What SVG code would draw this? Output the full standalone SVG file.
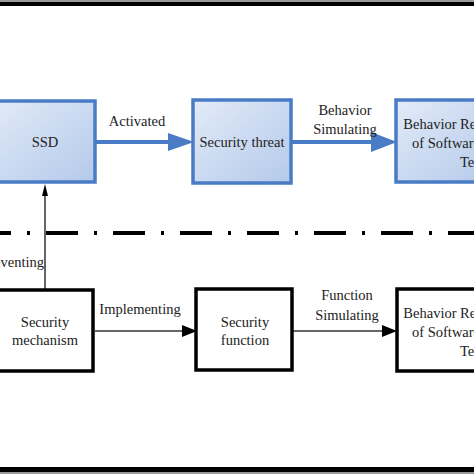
<svg xmlns="http://www.w3.org/2000/svg" width="474" height="474" viewBox="0 0 474 474">
<style>
text{font-family:"Liberation Serif","Times New Roman",serif;font-size:14.5px;fill:#222;text-anchor:middle}
.tb{fill:url(#g);stroke:#4a7cc6;stroke-width:3.5}
.bb{fill:#fff;stroke:#000;stroke-width:3.5}
.ba{stroke:#4a7cc6;stroke-width:4;fill:none}
.ka{stroke:#333;stroke-width:1.5;fill:none}
</style>
<defs>
<linearGradient id="g" x1="0" y1="0" x2="1" y2="1">
<stop offset="0" stop-color="#e2ebf8"/>
<stop offset="1" stop-color="#b4c9ea"/>
</linearGradient>
</defs>
<rect width="474" height="474" fill="#fff"/>
<rect x="0" y="0" width="474" height="2" fill="#999"/>
<rect x="0" y="2" width="474" height="4" fill="#000"/>
<rect x="0" y="467" width="474" height="5" fill="#000"/>
<rect x="0" y="472" width="474" height="2" fill="#999"/>
<line x1="-21" y1="233" x2="474" y2="233" stroke="#000" stroke-width="4" stroke-dasharray="32 16 3 16"/>
<g id="connectors">
<line class="ba" x1="95" y1="142" x2="172" y2="142"/>
<polygon points="168,133 194,142 168,151" fill="#4a7cc6"/>
<line class="ba" x1="291" y1="142" x2="374" y2="142"/>
<polygon points="371,132 397,142 371,152" fill="#4a7cc6"/>
<line class="ka" x1="45" y1="290" x2="45" y2="192"/>
<polygon points="42,196 45,184 48,196" fill="#000"/>
<line class="ka" x1="95" y1="331" x2="184" y2="331"/>
<polygon points="182,325 197,331 182,337" fill="#000"/>
<line class="ka" x1="292" y1="331" x2="384" y2="331"/>
<polygon points="382,325 397,331 382,337" fill="#000"/>
<text x="137" y="126">Activated</text>
<text x="345" y="115">Behavior</text>
<text x="345" y="134">Simulating</text>
<text x="44" y="267" style="text-anchor:end">Preventing</text>
<text x="140" y="314">Implementing</text>
<text x="347" y="300">Function</text>
<text x="347" y="320">Simulating</text>
</g>
<g id="ssd">
<rect class="tb" x="-10" y="101" width="105" height="81"/>
<text x="45" y="147">SSD</text>
</g>
<g id="security-threat">
<rect class="tb" x="193" y="100" width="98" height="83"/>
<text x="242" y="147">Security threat</text>
</g>
<g id="behavior-top">
<rect class="tb" x="396" y="100" width="100" height="82"/>
<text x="472" y="129">Behavior Requirements</text>
<text x="472" y="148">of Software Security</text>
<text x="472" y="167">Test</text>
</g>
<g id="security-mechanism">
<rect class="bb" x="-10" y="290" width="103" height="81"/>
<text x="45" y="327">Security</text>
<text x="45" y="345">mechanism</text>
</g>
<g id="security-function">
<rect class="bb" x="196" y="289" width="96" height="81"/>
<text x="245" y="327">Security</text>
<text x="245" y="345">function</text>
</g>
<g id="behavior-bottom">
<rect class="bb" x="397" y="289" width="100" height="82"/>
<text x="472" y="318">Behavior Requirements</text>
<text x="472" y="337">of Software Security</text>
<text x="472" y="356">Test</text>
</g>
</svg>
